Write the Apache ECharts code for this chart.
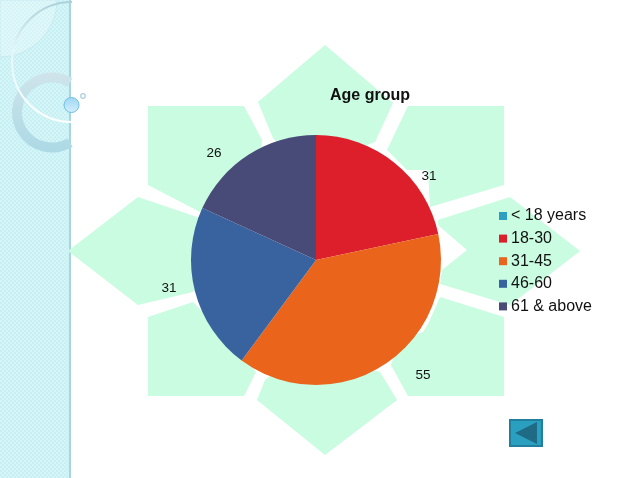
<!DOCTYPE html>
<html>
<head>
<meta charset="utf-8">
<style>
  html, body { margin: 0; padding: 0; background: #fff; }
  #main { width: 638px; height: 478px; }
</style>
<script src="https://cdn.jsdelivr.net/npm/echarts@6/dist/echarts.min.js"></script>
</head>
<body>
<div id="main"></div>
<script>
const categories = ['< 18 years', '18-30', '31-45', '46-60', '61 & above']
const values = [0, 31, 55, 31, 26]
const sliceColors = ['#2E9FC0', '#DC1F2B', '#EA641C', '#38639E', '#484B77']

// label centres on the slide, they do not follow the slices
const labelSpots = [null, [429, 176], [423, 375], [169, 288], [214, 153]]

const petalColor = '#C9FCE1'
const petals = [
  [[325, 45], [393, 103], [375, 142], [300, 170], [273, 138], [258, 102]], // top
  [[408, 106], [504, 106], [504, 185], [430, 207], [428, 170], [407, 170], [387, 150]], // top right
  [[510, 197], [580, 251], [510, 305], [440, 284], [442, 270], [467, 250], [438, 225], [438, 220]], // right
  [[440, 297], [504, 317], [504, 396], [408, 396], [391, 365], [400, 340], [423, 332], [429, 322]], // bottom right
  [[325, 455], [397, 400], [380, 372], [300, 350], [265, 380], [257, 400]], // bottom
  [[148, 317], [148, 396], [244, 396], [256, 372], [230, 340], [193, 302]], // bottom left
  [[138, 197], [200, 218], [230, 260], [193, 292], [138, 305], [68, 251]], // left
  [[148, 106], [244, 106], [262, 140], [260, 190], [200, 212], [148, 185]] // top left
]

// small dotted tile for the side bar
function makeDots() {
  const c = document.createElement('canvas')
  c.width = 4
  c.height = 4
  const ctx = c.getContext('2d')
  ctx.fillStyle = '#C6F0F4'
  ctx.fillRect(0, 0, 4, 4)
  ctx.fillStyle = '#D6F5F7'
  ctx.fillRect(0, 0, 2, 2)
  ctx.fillRect(2, 2, 2, 2)
  return c
}

const deg = Math.PI / 180
const graphics = [
  {
    type: 'rect',
    shape: { x: 0, y: 0, width: 69, height: 478 },
    style: { fill: { image: makeDots(), repeat: 'repeat' } }
  },
  {
    type: 'rect',
    shape: { x: 69, y: 0, width: 2, height: 478 },
    style: { fill: '#A8D6DD' }
  },
  {
    type: 'sector',
    shape: { cx: 0, cy: 0, r: 57, startAngle: 0, endAngle: 90 * deg },
    style: { fill: 'rgba(255,255,255,0.28)', stroke: 'rgba(170,215,225,0.35)', lineWidth: 1 }
  },
  {
    type: 'arc',
    shape: { cx: 52, cy: 112.5, r: 35, startAngle: 59 * deg, endAngle: 301 * deg, clockwise: true },
    style: {
      fill: 'none',
      lineWidth: 10,
      stroke: new echarts.graphic.LinearGradient(0, 0, 0, 1, [
        { offset: 0, color: '#CFE4EA' },
        { offset: 1, color: '#ABD9E5' }
      ])
    }
  },
  {
    type: 'arc',
    shape: { cx: 72, cy: 62, r: 60, startAngle: 90 * deg, endAngle: 270 * deg, clockwise: true },
    style: {
      fill: 'none',
      lineWidth: 2,
      stroke: new echarts.graphic.LinearGradient(0, 0, 0, 1, [
        { offset: 0, color: '#A9CFD8' },
        { offset: 0.4, color: '#E4F6F8' },
        { offset: 1, color: '#FFFFFF' }
      ])
    }
  },
  {
    type: 'circle',
    shape: { cx: 71.5, cy: 105, r: 7.5 },
    style: {
      lineWidth: 1,
      stroke: '#72BEE4',
      fill: new echarts.graphic.LinearGradient(0, 0, 0, 1, [
        { offset: 0, color: '#9FD6F3' },
        { offset: 1, color: '#D3EFFC' }
      ])
    }
  },
  {
    type: 'circle',
    shape: { cx: 83, cy: 96, r: 2.3 },
    style: { fill: '#fff', stroke: '#AACFDA', lineWidth: 1.2 }
  },
  // back button
  {
    type: 'rect',
    shape: { x: 510, y: 420, width: 32, height: 26 },
    style: { fill: '#2B9FBF', stroke: '#1F7F9C', lineWidth: 2 }
  },
  {
    type: 'polygon',
    shape: { points: [[515, 433], [537, 422], [537, 444]] },
    style: { fill: '#1F6B85' }
  }
]
petals.forEach(function (points) {
  graphics.push({ type: 'polygon', shape: { points: points }, style: { fill: petalColor } })
})

const option = {
  animation: false,
  backgroundColor: '#fff',
  color: sliceColors,
  textStyle: { fontFamily: 'Liberation Sans' },
  title: {
    text: 'Age group',
    left: 330,
    top: 88,
    padding: 0,
    textStyle: { fontFamily: 'Liberation Sans', fontSize: 16, fontWeight: 'bold', color: '#111' }
  },
  legend: {
    orient: 'vertical',
    left: 499,
    top: 207,
    padding: 0,
    icon: 'rect',
    itemWidth: 8,
    itemHeight: 8,
    itemGap: 4.6,
    selectedMode: false,
    data: categories,
    textStyle: { fontFamily: 'Liberation Sans', fontSize: 16, color: '#111', padding: [0, 0, 0, -1], lineHeight: 18 }
  },
  graphic: { elements: graphics },
  series: [
    {
      type: 'pie',
      center: [316, 260],
      radius: 125,
      startAngle: 90,
      avoidLabelOverlap: false,
      silent: true,
      label: {
        position: 'outside',
        formatter: '{c}',
        fontFamily: 'Liberation Sans',
        fontSize: 13.5,
        color: '#111'
      },
      labelLine: { show: false },
      labelLayout: function (params) {
        const spot = labelSpots[params.dataIndex]
        if (!spot) return {}
        return { x: spot[0], y: spot[1], align: 'center', verticalAlign: 'middle' }
      },
      data: categories.map(function (name, i) {
        return { name: name, value: values[i], label: { show: values[i] > 0 } }
      })
    }
  ]
}

const myChart = echarts.init(document.getElementById('main'))
myChart.setOption(option)
</script>
</body>
</html>
